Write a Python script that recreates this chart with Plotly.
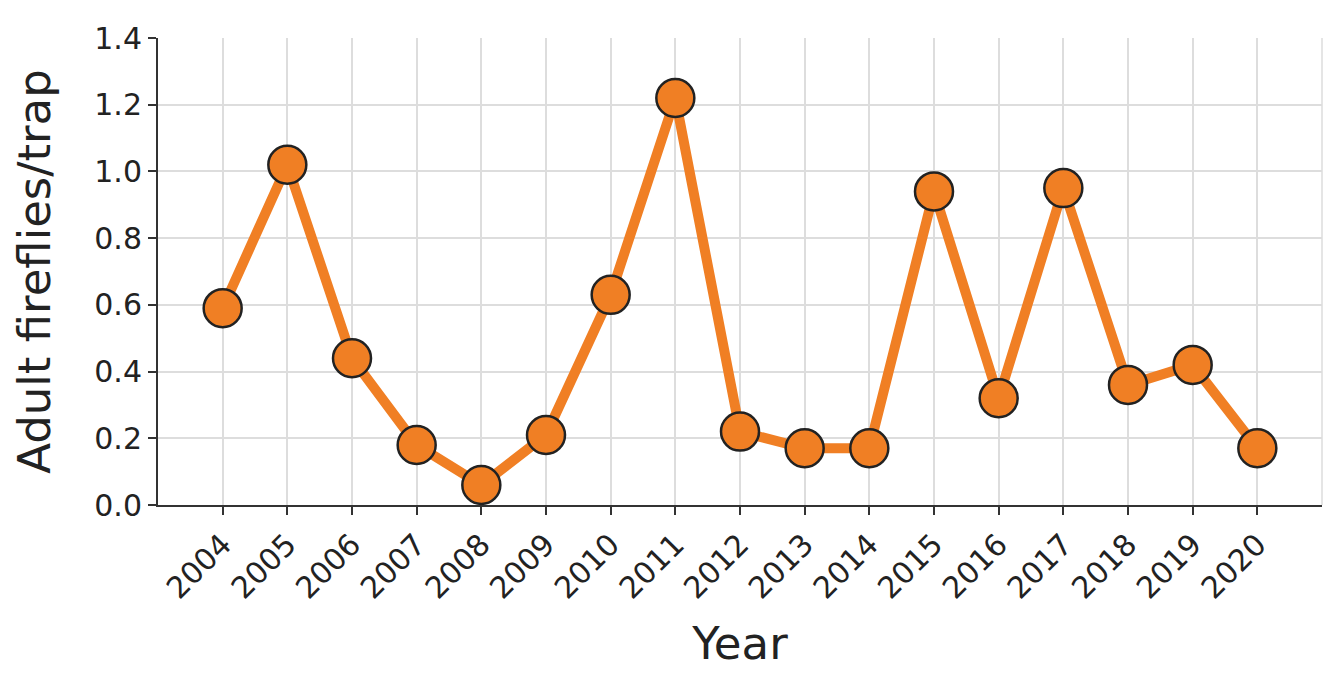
import plotly.graph_objects as go

years = list(range(2004, 2021))
fireflies_per_trap = [0.59, 1.02, 0.44, 0.18, 0.06, 0.21, 0.63, 1.22, 0.22,
                      0.17, 0.17, 0.94, 0.32, 0.95, 0.36, 0.42, 0.17]
y_ticks = [0.0, 0.2, 0.4, 0.6, 0.8, 1.0, 1.2, 1.4]

orange = "#f07f24"

fig = go.Figure()
fig.add_trace(go.Scatter(
    x=years,
    y=fireflies_per_trap,
    mode="lines+markers",
    line=dict(color=orange, width=10),
    marker=dict(size=38, color=orange, line=dict(color="#222222", width=2.5)),
    cliponaxis=False,
    showlegend=False,
))

# light border on the right side like the reference
fig.add_shape(type="line", xref="x domain", yref="y domain",
              x0=1, x1=1, y0=0, y1=1, line=dict(color="#dddddd", width=1.5))

fig.update_xaxes(
    title=dict(text="Year", font=dict(size=45, color="#222222"), standoff=23),
    range=[2003, 2021],
    tickvals=years,
    ticktext=[str(y) for y in years],
    tickangle=-45,
    tickfont=dict(size=30, color="#222222"),
    ticks="outside", ticklen=8, tickwidth=2, tickcolor="#333333",
    showline=True, linecolor="#333333", linewidth=2,
    showgrid=True, gridcolor="#dddddd", gridwidth=1.5,
    zeroline=False, automargin=False,
)
fig.update_yaxes(
    title=dict(text="Adult fireflies/trap", font=dict(size=45, color="#222222"), standoff=36),
    range=[0, 1.4],
    tickvals=y_ticks,
    ticktext=[f"{v:.1f}" for v in y_ticks],
    tickfont=dict(size=30, color="#222222"),
    ticks="outside", ticklen=8, tickwidth=2, tickcolor="#333333",
    showline=True, linecolor="#333333", linewidth=2,
    showgrid=True, gridcolor="#dddddd", gridwidth=1.5,
    zeroline=False, automargin=False,
)

fig.update_layout(
    width=1332, height=676,
    margin=dict(l=150, r=18, t=30, b=179),
    plot_bgcolor="white", paper_bgcolor="white",
    font=dict(family="DejaVu Sans", color="#222222"),
)

fig.write_html("out.html")
